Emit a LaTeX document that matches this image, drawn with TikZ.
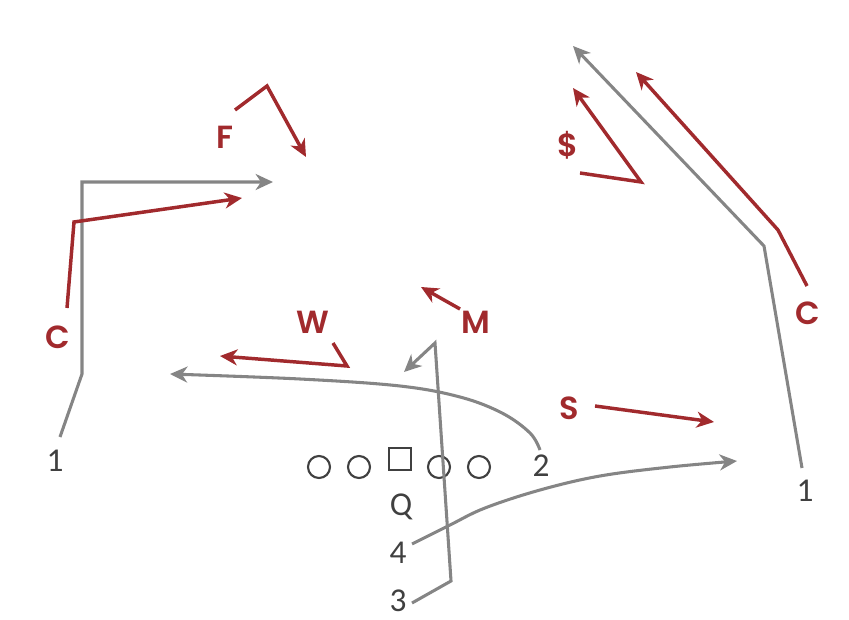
\documentclass[tikz,border=0pt]{standalone}
\usepackage{fontspec}
\setmainfont{Carlito}
\newfontfamily\redfont{Poppins SemiBold}
\usetikzlibrary{arrows.meta}
\definecolor{rcol}{HTML}{A12A2D}
\definecolor{gcol}{HTML}{858585}
\definecolor{tcol}{HTML}{404040}
\tikzset{
  groute/.style={draw=gcol, line width=2.3pt, line join=miter},
  rroute/.style={draw=rcol, line width=2.6pt, line join=miter},
  garrow/.style={groute, -{Stealth[length=13pt,width=12pt,inset=4pt]}},
  rarrow/.style={rroute, -{Stealth[length=13pt,width=12pt,inset=4pt]}},
  num/.style={text=tcol, font=\fontsize{25}{30}\selectfont, inner sep=0pt},
  rlab/.style={text=rcol, font=\redfont\fontsize{24}{28}\selectfont, inner sep=0pt},
  lineman/.style={draw=tcol, line width=1.6pt, circle, minimum size=16.5pt, inner sep=0pt},
  center/.style={draw=tcol, line width=1.6pt, minimum size=17pt, inner sep=0pt},
}
\begin{document}
\begin{tikzpicture}[x=0.75pt, y=-0.75pt]
\useasboundingbox (0,0) rectangle (849,620);
% labels
\node[num] (n1l) at (55,461) {1};
\node[num] (n1r) at (805,491) {1};
\node[num] (n2) at (541,466) {2};
\node[num] (n3) at (398,601) {3};
\node[num] (n4) at (398,553) {4};
\node[num] (q) at (401,507) {Q};
\node[rlab] (Cl) at (58,337) {C};
\node[rlab] (F) at (225,137) {F};
\node[rlab] (W) at (313,322) {W};
\node[rlab] (M) at (476,322) {M};
\node[rlab] (D) at (568,145) {\$};
\node[rlab] (Cr) at (808,313) {C};
\node[rlab] (S) at (569,408) {S};
% line
\node[lineman] (o1) at (319,467) {};
\node[lineman] (o2) at (359,467) {};
\node[center] (ce) at (400,459) {};
\node[lineman] (o3) at (439,467) {};
\node[lineman] (o4) at (479,467) {};
% gray route points
\coordinate (a1) at (60,437);
\coordinate (a2) at (82,374);
\coordinate (a3) at (82,182);
\coordinate (a4) at (273,182);
\coordinate (b1) at (802,468);
\coordinate (b2) at (764,246);
\coordinate (b3) at (573,46);
\coordinate (c1) at (412,603);
\coordinate (c2) at (451,581);
\coordinate (c3) at (435,343);
\coordinate (c4) at (404,372);
% red route points
\coordinate (l1) at (67,308);
\coordinate (l2) at (74,222);
\coordinate (l3) at (242,198);
\coordinate (f1) at (235,110);
\coordinate (f2) at (267,86);
\coordinate (f3) at (306,157);
\coordinate (w1) at (333,343);
\coordinate (w2) at (347,366);
\coordinate (w3) at (220,356);
\coordinate (m1) at (460,309);
\coordinate (m2) at (421,287);
\coordinate (d1) at (580,173);
\coordinate (d2) at (641,182);
\coordinate (d3) at (573,88);
\coordinate (r1) at (807,286);
\coordinate (r2) at (778,230);
\coordinate (r3) at (636,72);
\coordinate (s1) at (595,406);
\coordinate (s2) at (714,422);
% gray routes
\draw[garrow] (a1) -- (a2) -- (a3) -- (a4);
\draw[garrow] (b1) -- (b2) -- (b3);
\draw[garrow] (c1) -- (c2) -- (c3) -- (c4);
\draw[garrow] plot[smooth, tension=0.6] coordinates {(540,450) (530,433) (502,413) (460,397) (400,386) (300,379) (170,374)};
\draw[garrow] plot[smooth, tension=0.6] coordinates {(412,544) (450,525) (485,508) (540,490) (600,476) (670,467) (737,461)};
% red routes
\draw[rarrow] (l1) -- (l2) -- (l3);
\draw[rarrow] (f1) -- (f2) -- (f3);
\draw[rarrow] (w1) -- (w2) -- (w3);
\draw[rarrow] (m1) -- (m2);
\draw[rarrow] (d1) -- (d2) -- (d3);
\draw[rarrow] (r1) -- (r2) -- (r3);
\draw[rarrow] (s1) -- (s2);
\end{tikzpicture}
\end{document}
